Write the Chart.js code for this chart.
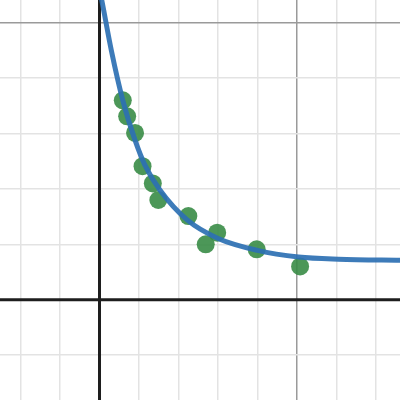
<!DOCTYPE html>
<html>
<head>
<meta charset="utf-8">
<script src="https://cdn.jsdelivr.net/npm/chart.js@4"></script>
<style>
  html, body { margin: 0; padding: 0; background: #fff; }
  #wrap { width: 400px; height: 400px; }
</style>
</head>
<body>
<div id="wrap"><canvas id="chart"></canvas></div>
<script>
const pointX = [0.59, 0.70, 0.90, 1.09, 1.35, 1.49, 2.25, 2.69, 2.98, 3.98, 5.08];
const pointY = [3.60, 3.31, 3.01, 2.41, 2.10, 1.80, 1.51, 1.00, 1.21, 0.91, 0.60];

// fitted curve
const curveX = [0.00, 0.056, 0.30, 0.59, 0.90, 1.15, 1.53, 2.22, 2.99, 4.00, 5.04, 6.05, 7.70];
const curveY = [5.60, 5.41, 4.50, 3.60, 2.88, 2.43, 1.98, 1.44, 1.11, 0.89, 0.77, 0.73, 0.71];

const xMin = -2.52, xMax = 7.61;
const yMin = -1.81, yMax = 5.41;

const toXY = (xs, ys) => xs.map((x, i) => ({ x: x, y: ys[i] }));

function gridColor(ctx) {
    const v = ctx.tick.value;
    if (v === 0) return "rgba(0,0,0,0)";
    if (v % 5 === 0) return "#9a9a9a";
    return "#e3e3e3";
}

// axes drawn on top of the grid
const axesPlugin = {
    id: "axes",
    beforeDatasetsDraw(chart) {
        const c = chart.ctx, a = chart.chartArea;
        const x0 = chart.scales.x.getPixelForValue(0);
        const y0 = chart.scales.y.getPixelForValue(0);
        c.save();
        c.strokeStyle = "#1e1e1e";
        c.lineWidth = 3;
        c.beginPath();
        c.moveTo(x0, a.top); c.lineTo(x0, a.bottom);
        c.moveTo(a.left, y0); c.lineTo(a.right, y0);
        c.stroke();
        c.restore();
    }
};

new Chart(document.getElementById("chart"), {
    type: "scatter",
    data: {
        datasets: [
            {
                data: toXY(curveX, curveY),
                showLine: true,
                borderColor: "rgba(45,112,179,0.92)",
                borderWidth: 5,
                pointRadius: 0,
                cubicInterpolationMode: "monotone",
                fill: false
            },
            {
                data: toXY(pointX, pointY),
                backgroundColor: "rgba(56,140,70,0.9)",
                borderWidth: 0,
                pointRadius: 9,
                pointHoverRadius: 9
            }
        ]
    },
    options: {
        responsive: true,
        maintainAspectRatio: false,
        animation: false,
        layout: { padding: 0, autoPadding: false },
        plugins: { legend: { display: false }, tooltip: { enabled: false } },
        scales: {
            x: {
                type: "linear",
                min: xMin, max: xMax,
                ticks: { display: false, stepSize: 1, includeBounds: false },
                border: { display: false },
                grid: { color: gridColor, lineWidth: 1.5, drawTicks: false }
            },
            y: {
                type: "linear",
                min: yMin, max: yMax,
                ticks: { display: false, stepSize: 1, includeBounds: false },
                border: { display: false },
                grid: { color: gridColor, lineWidth: 1.5, drawTicks: false }
            }
        }
    },
    plugins: [axesPlugin]
});
</script>
</body>
</html>
